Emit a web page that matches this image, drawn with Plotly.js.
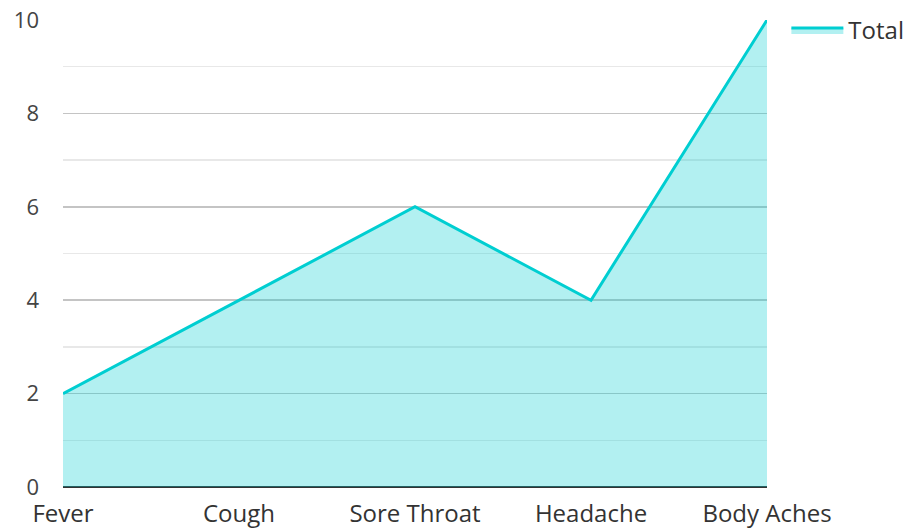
<!DOCTYPE html>
<html>
<head>
<meta charset="utf-8">
<script src="https://cdn.plot.ly/plotly-3.0.1.min.js"></script>
<style>html,body{margin:0;padding:0;background:#fff;}#chart{width:907px;height:528px;}</style>
</head>
<body>
<div id="chart"></div>
<script>
const categories = ["Fever", "Cough", "Sore Throat", "Headache", "Body Aches"];
const totalValues = [2, 4, 6, 4, 10];
const seriesName = "Total";
const yTickValues = [0, 2, 4, 6, 8, 10];

const trace = {
  x: categories,
  y: totalValues,
  name: seriesName,
  type: "scatter",
  mode: "lines",
  fill: "tozeroy",
  line: {color: "#00CED1", width: 3},
  fillcolor: "rgba(0,206,209,0.3)",
  hoverinfo: "x+y"
};

const layout = {
  width: 907,
  height: 528,
  margin: {l: 63, r: 140, t: 20, b: 41, pad: 0, autoexpand: false},
  paper_bgcolor: "#fff",
  plot_bgcolor: "#fff",
  font: {family: "Open Sans, Noto Sans, sans-serif", size: 22, color: "#444"},
  showlegend: true,
  legend: {xref: "container", yref: "container", x: 0.867, y: 0.985, xanchor: "left", yanchor: "top", itemwidth: 52, font: {size: 24, color: "#333"}, bgcolor: "rgba(0,0,0,0)"},
  xaxis: {
    type: "category",
    range: [0, 4],
    showgrid: false,
    zeroline: false,
    showline: false,
    ticks: "",
    tickfont: {size: 24, color: "#333"},
    ticklabelstandoff: 10,
    fixedrange: true
  },
  yaxis: {
    range: [0, 10],
    tickvals: yTickValues,
    showgrid: true,
    gridcolor: "#c4c4c4",
    gridwidth: 1.5,
    minor: {dtick: 1, showgrid: true, gridcolor: "#e8e8e8", gridwidth: 1.5},
    zeroline: true,
    zerolinecolor: "#333",
    zerolinewidth: 2.5,
    showline: false,
    ticks: "",
    tickfont: {size: 22, color: "#444"},
    ticklabelstandoff: 23,
    fixedrange: true
  }
};

Plotly.newPlot("chart", [trace], layout, {displayModeBar: false, staticPlot: true});
</script>
</body>
</html>
